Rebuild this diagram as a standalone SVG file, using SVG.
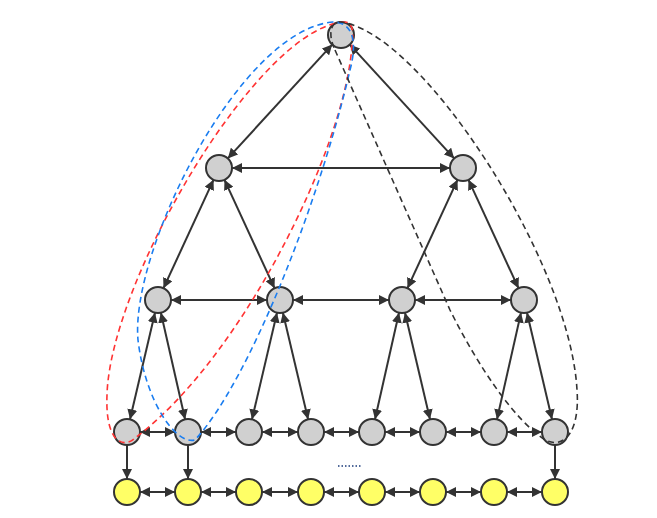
<svg xmlns="http://www.w3.org/2000/svg" width="657" height="518" viewBox="0 0 657 518">
<style>
.e{stroke:#333;stroke-width:2;fill:none;marker-start:url(#a);marker-end:url(#a)}
.d{stroke:#333;stroke-width:2;fill:none;marker-end:url(#a)}
.g{fill:#d0d0d0;stroke:#333;stroke-width:2}
.y{fill:#ffff66;stroke:#333;stroke-width:2}
.k{fill:none;stroke-width:1.6;stroke-dasharray:6,4}
</style>
<defs><marker id="a" viewBox="0 0 10 10" refX="10" refY="5" markerWidth="5" markerHeight="5" orient="auto-start-reverse" markerUnits="strokeWidth"><path d="M0,0 L10,5 L0,10 Z" fill="#333"/></marker></defs>
<rect width="657" height="518" fill="#fff"/>
<g id="connectors">
<line class="e" x1="332.2" y1="44.6" x2="227.8" y2="158.4"/>
<line class="e" x1="349.8" y1="44.6" x2="454.2" y2="158.4"/>
<line class="e" x1="232" y1="168" x2="450" y2="168"/>
<line class="e" x1="213.5" y1="179.8" x2="163.5" y2="288.2"/>
<line class="e" x1="224.5" y1="179.8" x2="274.5" y2="288.2"/>
<line class="e" x1="457.5" y1="179.8" x2="407.5" y2="288.2"/>
<line class="e" x1="468.5" y1="179.8" x2="518.5" y2="288.2"/>
<line class="e" x1="171" y1="300" x2="267" y2="300"/>
<line class="e" x1="293" y1="300" x2="389" y2="300"/>
<line class="e" x1="415" y1="300" x2="511" y2="300"/>
<line class="e" x1="155" y1="312.7" x2="130" y2="419.3"/>
<line class="e" x1="160.9" y1="312.7" x2="185.1" y2="419.3"/>
<line class="e" x1="277" y1="312.7" x2="252" y2="419.3"/>
<line class="e" x1="282.9" y1="312.7" x2="308.1" y2="419.3"/>
<line class="e" x1="399" y1="312.7" x2="375" y2="419.3"/>
<line class="e" x1="405" y1="312.7" x2="430" y2="419.3"/>
<line class="e" x1="521" y1="312.7" x2="497" y2="419.3"/>
<line class="e" x1="527" y1="312.7" x2="552" y2="419.3"/>
<line class="e" x1="140" y1="432" x2="175" y2="432"/>
<line class="e" x1="201" y1="432" x2="236" y2="432"/>
<line class="e" x1="262" y1="432" x2="298" y2="432"/>
<line class="e" x1="324" y1="432" x2="359" y2="432"/>
<line class="e" x1="385" y1="432" x2="420" y2="432"/>
<line class="e" x1="446" y1="432" x2="481" y2="432"/>
<line class="e" x1="507" y1="432" x2="542" y2="432"/>
<line class="e" x1="140" y1="492" x2="175" y2="492"/>
<line class="e" x1="201" y1="492" x2="236" y2="492"/>
<line class="e" x1="262" y1="492" x2="298" y2="492"/>
<line class="e" x1="324" y1="492" x2="359" y2="492"/>
<line class="e" x1="385" y1="492" x2="420" y2="492"/>
<line class="e" x1="446" y1="492" x2="481" y2="492"/>
<line class="e" x1="507" y1="492" x2="542" y2="492"/>
<line class="d" x1="127" y1="445" x2="127" y2="479"/>
<line class="d" x1="188" y1="445" x2="188" y2="479"/>
<line class="d" x1="555" y1="445" x2="555" y2="479"/>
</g>
<g id="nodes">
<circle id="n0" class="g" cx="341" cy="35" r="13"/>
<circle id="n1" class="g" cx="219" cy="168" r="13"/>
<circle id="n2" class="g" cx="463" cy="168" r="13"/>
<circle id="n3" class="g" cx="158" cy="300" r="13"/>
<circle id="n4" class="g" cx="280" cy="300" r="13"/>
<circle id="n5" class="g" cx="402" cy="300" r="13"/>
<circle id="n6" class="g" cx="524" cy="300" r="13"/>
<circle id="n7" class="g" cx="127" cy="432" r="13"/>
<circle id="n8" class="g" cx="188" cy="432" r="13"/>
<circle id="n9" class="g" cx="249" cy="432" r="13"/>
<circle id="n10" class="g" cx="311" cy="432" r="13"/>
<circle id="n11" class="g" cx="372" cy="432" r="13"/>
<circle id="n12" class="g" cx="433" cy="432" r="13"/>
<circle id="n13" class="g" cx="494" cy="432" r="13"/>
<circle id="n14" class="g" cx="555" cy="432" r="13"/>
<circle id="y1" class="y" cx="127" cy="492" r="13"/>
<circle id="y2" class="y" cx="188" cy="492" r="13"/>
<circle id="y3" class="y" cx="249" cy="492" r="13"/>
<circle id="y4" class="y" cx="311" cy="492" r="13"/>
<circle id="y5" class="y" cx="372" cy="492" r="13"/>
<circle id="y6" class="y" cx="433" cy="492" r="13"/>
<circle id="y7" class="y" cx="494" cy="492" r="13"/>
<circle id="y8" class="y" cx="555" cy="492" r="13"/>
</g>
<g id="groups">
<path class="k" stroke="#ff3333" d="M345,22 C260,25 110,280 107,395 C105,445 125,448 135,438 C240,360 345,150 352,45 C354,30 352,22 345,22 Z"/>
<path class="k" stroke="#1a7df0" d="M333,22 C240,30 130,250 138,340 C145,400 175,445 195,440 C250,380 320,200 350,70 C358,40 352,22 333,22 Z"/>
<path class="k" stroke="#333" d="M335,50 L450,310 C480,370 515,420 545,440 C565,450 580,430 577,390 C570,260 420,30 340,22 C330,22 328,35 335,50 Z"/>
</g>
<line x1="338" y1="466" x2="362" y2="466" stroke="#1a3a7a" stroke-width="1.5" stroke-dasharray="1.5,2"/>
</svg>
